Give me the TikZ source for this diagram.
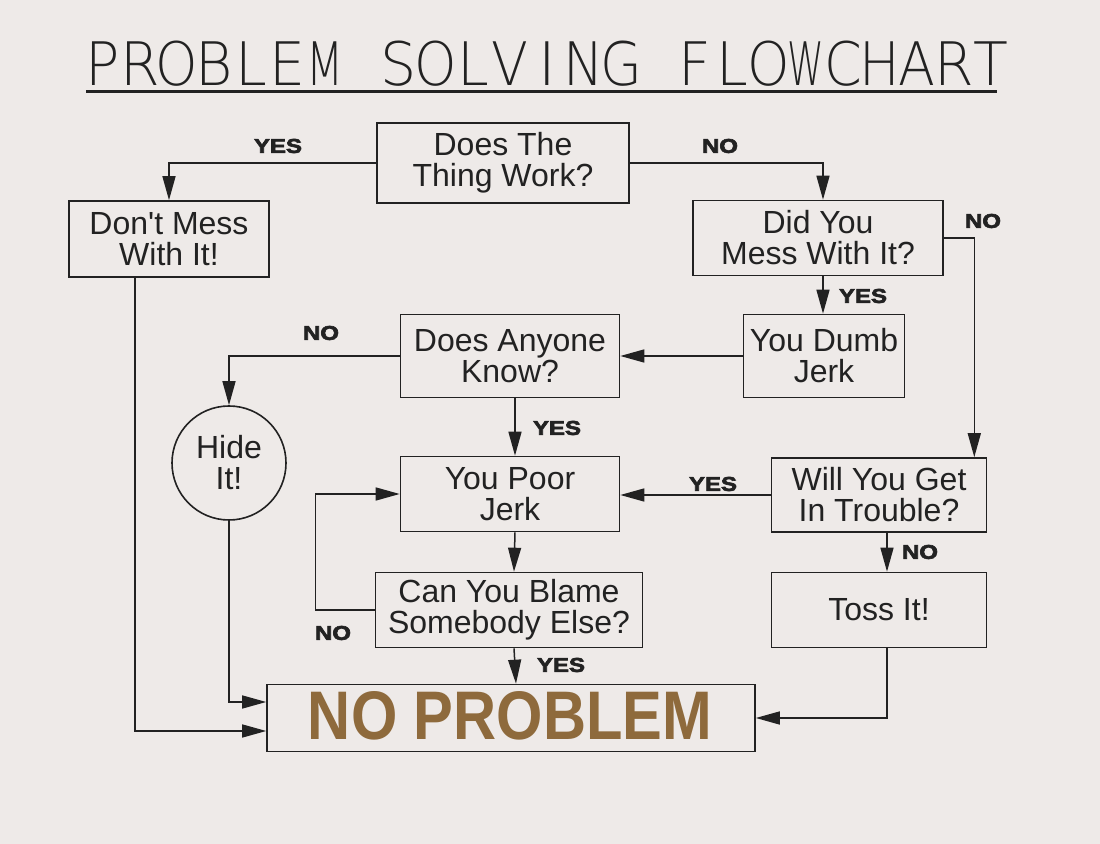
\documentclass[tikz,border=0pt]{standalone}
\usepackage{fontspec}
\usepackage{graphicx}
\usetikzlibrary{arrows.meta}
\setmainfont{Liberation Sans}
\newfontfamily\lblfont{Liberation Sans Bold}[FakeBold=3]
\IfFontExistsTF{FiraSans-ExtraLight.otf}
  {\newfontfamily\titlefont{FiraSans-ExtraLight.otf}\def\titlesize{32pt}}
  {\IfFontExistsTF{DejaVu Sans ExtraLight}
     {\newfontfamily\titlefont{DejaVu Sans ExtraLight}\def\titlesize{30pt}}
     {\newfontfamily\titlefont{DejaVu Sans}\def\titlesize{30pt}}}
\definecolor{bgcol}{HTML}{EEEAE8}
\definecolor{inkcol}{HTML}{222222}
\definecolor{browncol}{HTML}{8E6A3C}
\newcommand\yn[1]{\scalebox{1.2}[1]{#1}}
\tikzset{
  stepbox/.style={draw=inkcol, line width=0.8pt, rectangle, inner sep=0pt, align=center,
    text=inkcol, font=\fontsize{16pt}{15.5pt}\selectfont},
  roundbox/.style={draw=inkcol, line width=0.8pt, circle, inner sep=0pt, align=center,
    text=inkcol, font=\fontsize{16pt}{15.5pt}\selectfont, minimum size=57pt},
  lbl/.style={inner sep=0pt, text=inkcol, font=\lblfont\fontsize{10pt}{10pt}\selectfont},
  arr/.style={draw=inkcol, line width=0.75pt, -{Triangle[length=12pt,width=6.5pt]}},
  titlech/.style={inner sep=0pt, anchor=base, text=inkcol,
    font=\titlefont\fontsize{\titlesize}{\titlesize}\selectfont}
}
\begin{document}
\begin{tikzpicture}[x=0.5pt,y=-0.5pt]
\fill[bgcol] (0,0) rectangle (1100,844);
\useasboundingbox (0,0) rectangle (1100,844);

% title
\foreach \c/\i/\s in {P/0/0.95,R/1/0.95,O/2/0.9,B/3/0.95,L/4/0.95,E/5/0.95,M/6/0.72,S/8/0.95,O/9/0.9,L/10/0.95,V/11/0.9,I/12/1,N/13/0.9,G/14/0.9,F/16/0.95,L/17/0.95,O/18/0.9,W/19/0.62,C/20/0.9,H/21/0.9,A/22/0.9,R/23/0.95,T/24/0.95}
  \node[titlech] (t\i) at ({103+37*\i},86) {\scalebox{\s}[1]{\c}};
\coordinate (ul1) at (86,92);
\coordinate (ul2) at (997,92);
\draw[inkcol, line width=1.5pt] (ul1) -- (ul2);

% boxes
\node[stepbox, minimum width=126pt, minimum height=40pt] (b1) at (503,163) {Does The\\Thing Work?};
\node[stepbox, minimum width=100pt, minimum height=38pt] (b2) at (169,239) {Don\textquotesingle t Mess\\With It!};
\node[stepbox, minimum width=125pt, minimum height=37.5pt] (b3) at (818,238) {Did You\\Mess With It?};
\node[stepbox, minimum width=80.5pt, minimum height=41.5pt] (b4) at (824,356) {You Dumb\\Jerk};
\node[stepbox, minimum width=109.5pt, minimum height=41.5pt] (b5) at (510,356) {Does Anyone\\Know?};
\node[roundbox] (hide) at (229,463) {Hide\\It!};
\node[stepbox, minimum width=109.5pt, minimum height=37.5pt] (b7) at (510,494) {You Poor\\Jerk};
\node[stepbox, minimum width=133.5pt, minimum height=37.5pt] (b8) at (509,610) {Can You Blame\\Somebody Else?};
\node[stepbox, minimum width=107.5pt, minimum height=37pt] (b6) at (879,495) {Will You Get\\In Trouble?};
\node[stepbox, minimum width=107.5pt, minimum height=37.5pt] (b10) at (879,610) {Toss It!};
\node[stepbox, minimum width=244pt, minimum height=33.5pt] (b9) at (511,718) {};
\node[inner sep=0pt, text=browncol, font=\bfseries] (np) at (510,716) {\resizebox{202pt}{24pt}{NO PROBLEM}};

% connectors
\draw[arr] (b1.west) -| (b2.north);
\draw[arr] (b1.east) -| ([xshift=2.5pt]b3.north);
\draw[arr] (b3.east) -| ([xshift=-6.5pt]b6.north east);
\draw[arr] ([xshift=2.5pt]b3.south) -- ([xshift=2.5pt]b3.south |- b4.north);
\draw[arr] (b4.west) -- (b4.west -| b5.east);
\draw[arr] (b5.west) -| (hide.north);
\draw[arr] ([xshift=2.5pt]b5.south) -- ([xshift=2.5pt]b7.north);
\draw[arr] ([xshift=2.5pt]b7.south) -- ([xshift=2.5pt]b8.north);
\draw[arr] ([xshift=2.5pt]b8.south) -- ([xshift=2.5pt]b9.north);
\draw[arr] (b8.west) -- ++(-59,0) |- (b7.west);
\draw[arr] (b6.west) -- (b6.west -| b7.east);
\draw[arr] ([xshift=4pt]b6.south) -- ([xshift=4pt]b10.north);
\draw[arr] ([xshift=4pt]b10.south) |- (b9.east);
\draw[arr] (hide.south) |- ([yshift=8pt]b9.west);
\draw[arr] ([xshift=33.5pt]b2.south west) |- ([yshift=-6.5pt]b9.west);

% labels
\node[lbl] (l1) at (278,146) {\yn{YES}};
\node[lbl] (l2) at (720,146) {\yn{NO}};
\node[lbl] (l3) at (983,221) {\yn{NO}};
\node[lbl] (l4) at (863,296) {\yn{YES}};
\node[lbl] (l5) at (321,333) {\yn{NO}};
\node[lbl] (l6) at (557,428) {\yn{YES}};
\node[lbl] (l7) at (713,484) {\yn{YES}};
\node[lbl] (l8) at (920,552) {\yn{NO}};
\node[lbl] (l9) at (333,633) {\yn{NO}};
\node[lbl] (l10) at (561,665) {\yn{YES}};
\end{tikzpicture}
\end{document}
